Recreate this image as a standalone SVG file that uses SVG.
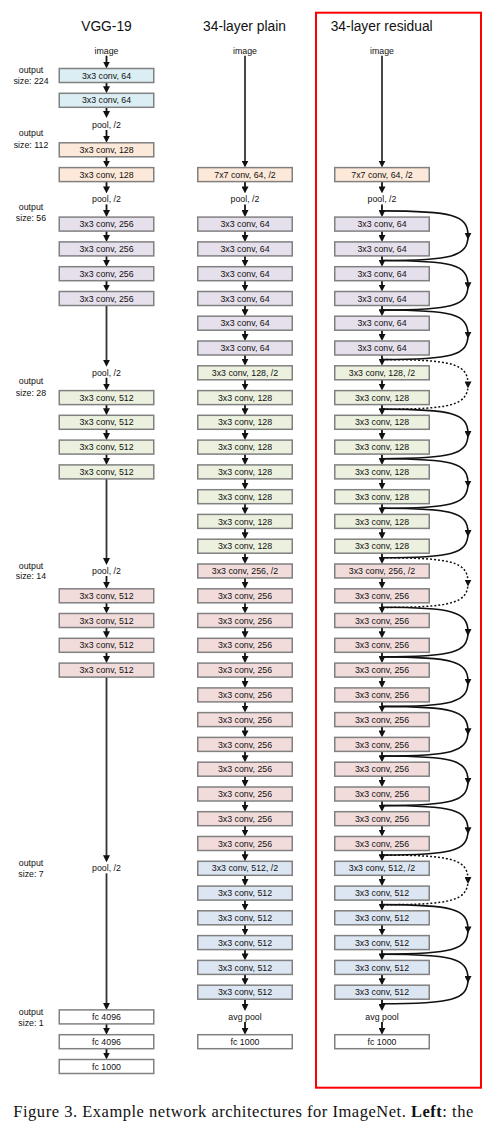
<svg xmlns="http://www.w3.org/2000/svg" width="483" height="1125" viewBox="0 0 483 1125">
<style>
text{font-family:"Liberation Sans",Arial,sans-serif;fill:#111}
.t{font-size:8.8px;text-anchor:middle}
.h{font-size:13.8px;text-anchor:middle}
.lab{font-size:8.8px;text-anchor:middle}
rect.b{stroke:#808080;stroke-width:1.5}
.blue{fill:#dbeef4}.orng{fill:#fde9d9}.lav{fill:#e6e0ec}.grn{fill:#ebf1de}.pink{fill:#f2dcdb}.lb{fill:#dce6f2}.wht{fill:#fff}
#connectors path{fill:none;stroke:#111;stroke-width:1.8}
#connectors path.long{stroke:#333}
#connectors path.sc{stroke-width:1.6}
#connectors path.d{stroke-dasharray:2 2;stroke-width:1.5}
</style>
<defs>
<marker id="ah" viewBox="0 0 7 7" refX="3" refY="3.5" markerWidth="7" markerHeight="7" markerUnits="userSpaceOnUse" orient="auto">
<path d="M0,0 L7,3.5 L0,7 z" fill="#111"/>
</marker>
</defs>
<rect x="0" y="0" width="483" height="1125" fill="#fff"/>
<rect x="316" y="12.7" width="165" height="1075" fill="none" stroke="#ff0000" stroke-width="2"/>
<g id="titles">
<text class="h" x="106.5" y="31">VGG-19</text>
<text class="h" x="244.5" y="31">34-layer plain</text>
<text class="h" x="381.7" y="31">34-layer residual</text>
</g>
<g id="size-labels">
<text class="lab" x="31" y="73">output</text><text class="lab" x="31" y="83.7">size: 224</text>
<text class="lab" x="31" y="136.3">output</text><text class="lab" x="31" y="148">size: 112</text>
<text class="lab" x="31" y="210.3">output</text><text class="lab" x="31" y="221.3">size: 56</text>
<text class="lab" x="31" y="384">output</text><text class="lab" x="31" y="396">size: 28</text>
<text class="lab" x="31" y="568.7">output</text><text class="lab" x="31" y="579">size: 14</text>
<text class="lab" x="31" y="866.3">output</text><text class="lab" x="31" y="877">size: 7</text>
<text class="lab" x="31" y="1015.3">output</text><text class="lab" x="31" y="1026.3">size: 1</text>
</g>
<g id="connectors" marker-end="url(#ah)">
<!-- VGG -->
<path d="M106.5,55.7V64.5"/>
<path d="M106.5,82.5V89.3"/>
<path d="M106.5,107.3V114"/>
<path d="M106.5,130V138.8"/>
<path d="M106.5,156.8V163.6"/>
<path d="M106.5,181.6V189.4"/>
<path d="M106.5,204.4V213.1"/>
<path d="M106.5,231.1V237.9"/>
<path d="M106.5,255.9V262.7"/>
<path d="M106.5,280.7V287.5"/>
<path class="long" d="M106.5,305.5V362.8"/>
<path d="M106.5,377.8V386.6"/>
<path d="M106.5,404.6V411.3"/>
<path d="M106.5,429.3V436.1"/>
<path d="M106.5,454.1V460.9"/>
<path class="long" d="M106.5,478.9V561"/>
<path d="M106.5,576V584.8"/>
<path d="M106.5,602.8V609.5"/>
<path d="M106.5,627.5V634.3"/>
<path d="M106.5,652.3V659.1"/>
<path class="long" d="M106.5,677.1V858.3"/>
<path class="long" d="M106.5,873.3V1005.9"/>
<path d="M106.5,1023.9V1030.7"/>
<path d="M106.5,1048.7V1055.5"/>
<!-- plain -->
<path class="long" d="M245,55.7V163.6"/>
<path d="M245,181.6V189.4"/>
<path d="M245,204.4V213.1"/>
<path d="M245,231.1V237.9"/><path d="M245,255.9V262.7"/><path d="M245,280.7V287.5"/><path d="M245,305.5V312.2"/><path d="M245,330.2V337"/><path d="M245,355V361.8"/>
<path d="M245,379.8V386.6"/><path d="M245,404.6V411.3"/><path d="M245,429.3V436.1"/><path d="M245,454.1V460.9"/><path d="M245,478.9V485.7"/><path d="M245,503.7V510.4"/><path d="M245,528.4V535.2"/><path d="M245,553.2V560"/>
<path d="M245,578V584.8"/><path d="M245,602.8V609.5"/><path d="M245,627.5V634.3"/><path d="M245,652.3V659.1"/><path d="M245,677.1V683.9"/><path d="M245,701.9V708.6"/><path d="M245,726.6V733.4"/><path d="M245,751.4V758.2"/><path d="M245,776.2V783"/><path d="M245,801V807.7"/><path d="M245,825.7V832.5"/><path d="M245,850.5V857.3"/>
<path d="M245,875.3V882.1"/><path d="M245,900.1V906.8"/><path d="M245,924.8V931.6"/><path d="M245,949.6V956.4"/><path d="M245,974.4V981.2"/>
<path d="M245,999.2V1006.9"/>
<path d="M245,1021.9V1030.7"/>
<!-- residual -->
<path class="long" d="M382,55.7V163.6"/>
<path d="M382,181.6V189.4"/>
<path d="M382,204.4V213.1"/>
<path d="M382,231.1V237.9"/><path d="M382,255.9V262.7"/><path d="M382,280.7V287.5"/><path d="M382,305.5V312.2"/><path d="M382,330.2V337"/><path d="M382,355V361.8"/>
<path d="M382,379.8V386.6"/><path d="M382,404.6V411.3"/><path d="M382,429.3V436.1"/><path d="M382,454.1V460.9"/><path d="M382,478.9V485.7"/><path d="M382,503.7V510.4"/><path d="M382,528.4V535.2"/><path d="M382,553.2V560"/>
<path d="M382,578V584.8"/><path d="M382,602.8V609.5"/><path d="M382,627.5V634.3"/><path d="M382,652.3V659.1"/><path d="M382,677.1V683.9"/><path d="M382,701.9V708.6"/><path d="M382,726.6V733.4"/><path d="M382,751.4V758.2"/><path d="M382,776.2V783"/><path d="M382,801V807.7"/><path d="M382,825.7V832.5"/><path d="M382,850.5V857.3"/>
<path d="M382,875.3V882.1"/><path d="M382,900.1V906.8"/><path d="M382,924.8V931.6"/><path d="M382,949.6V956.4"/><path d="M382,974.4V981.2"/>
<path d="M382,999.2V1006.9"/>
<path d="M382,1021.9V1030.7"/>
<!-- shortcuts -->
<path class="sc" d="M382,210.9C452,210.9 468,214.9 468,235.7"/><path class="sc" marker-end="none" d="M468,235.7C468,256.5 452,260.5 382,260.5"/>
<path class="sc" d="M382,260.5C452,260.5 468,264.5 468,285.3"/><path class="sc" marker-end="none" d="M468,285.3C468,306.1 452,310.1 382,310.1"/>
<path class="sc" d="M382,310C452,310 468,314 468,334.8"/><path class="sc" marker-end="none" d="M468,334.8C468,355.6 452,359.6 382,359.6"/>
<path class="sc d" d="M382,359.6C452,359.6 468,363.6 468,384.4"/><path class="sc d" marker-end="none" d="M468,384.4C468,405.2 452,409.2 382,409.2"/>
<path class="sc" d="M382,409.1C452,409.1 468,413.1 468,433.9"/><path class="sc" marker-end="none" d="M468,433.9C468,454.7 452,458.7 382,458.7"/>
<path class="sc" d="M382,458.7C452,458.7 468,462.7 468,483.5"/><path class="sc" marker-end="none" d="M468,483.5C468,504.3 452,508.3 382,508.3"/>
<path class="sc" d="M382,508.2C452,508.2 468,512.2 468,533"/><path class="sc" marker-end="none" d="M468,533C468,553.8 452,557.8 382,557.8"/>
<path class="sc d" d="M382,557.8C452,557.8 468,561.8 468,582.6"/><path class="sc d" marker-end="none" d="M468,582.6C468,603.4 452,607.4 382,607.4"/>
<path class="sc" d="M382,607.3C452,607.3 468,611.3 468,632.1"/><path class="sc" marker-end="none" d="M468,632.1C468,652.9 452,656.9 382,656.9"/>
<path class="sc" d="M382,656.9C452,656.9 468,660.9 468,681.7"/><path class="sc" marker-end="none" d="M468,681.7C468,702.5 452,706.5 382,706.5"/>
<path class="sc" d="M382,706.4C452,706.4 468,710.4 468,731.2"/><path class="sc" marker-end="none" d="M468,731.2C468,752 452,756 382,756"/>
<path class="sc" d="M382,756C452,756 468,760 468,780.8"/><path class="sc" marker-end="none" d="M468,780.8C468,801.6 452,805.6 382,805.6"/>
<path class="sc" d="M382,805.5C452,805.5 468,809.5 468,830.3"/><path class="sc" marker-end="none" d="M468,830.3C468,851.1 452,855.1 382,855.1"/>
<path class="sc d" d="M382,855.1C452,855.1 468,859.1 468,879.9"/><path class="sc d" marker-end="none" d="M468,879.9C468,900.7 452,904.7 382,904.7"/>
<path class="sc" d="M382,904.6C452,904.6 468,908.6 468,929.4"/><path class="sc" marker-end="none" d="M468,929.4C468,950.2 452,954.2 382,954.2"/>
<path class="sc" d="M382,954.2C452,954.2 468,958.2 468,979"/><path class="sc" marker-end="none" d="M468,979C468,999.8 452,1003.8 382,1003.8"/>
</g>
<!-- VGG nodes -->
<g id="vgg-image"><text class="t" x="106.5" y="53.7">image</text></g>
<g id="vgg-c1"><rect class="b blue" x="59.25" y="68.5" width="94.5" height="14"/><text class="t" x="106.5" y="78.6">3x3 conv, 64</text></g>
<g id="vgg-c2"><rect class="b blue" x="59.25" y="93.3" width="94.5" height="14"/><text class="t" x="106.5" y="103.4">3x3 conv, 64</text></g>
<g id="vgg-p1"><text class="t" x="106.5" y="128">pool, /2</text></g>
<g id="vgg-c3"><rect class="b orng" x="59.25" y="142.8" width="94.5" height="14"/><text class="t" x="106.5" y="152.9">3x3 conv, 128</text></g>
<g id="vgg-c4"><rect class="b orng" x="59.25" y="167.6" width="94.5" height="14"/><text class="t" x="106.5" y="177.7">3x3 conv, 128</text></g>
<g id="vgg-p2"><text class="t" x="106.5" y="202.4">pool, /2</text></g>
<g id="vgg-c5"><rect class="b lav" x="59.25" y="217.1" width="94.5" height="14"/><text class="t" x="106.5" y="227.2">3x3 conv, 256</text></g>
<g id="vgg-c6"><rect class="b lav" x="59.25" y="241.9" width="94.5" height="14"/><text class="t" x="106.5" y="252">3x3 conv, 256</text></g>
<g id="vgg-c7"><rect class="b lav" x="59.25" y="266.7" width="94.5" height="14"/><text class="t" x="106.5" y="276.8">3x3 conv, 256</text></g>
<g id="vgg-c8"><rect class="b lav" x="59.25" y="291.5" width="94.5" height="14"/><text class="t" x="106.5" y="301.6">3x3 conv, 256</text></g>
<g id="vgg-p3"><text class="t" x="106.5" y="375.8">pool, /2</text></g>
<g id="vgg-c9"><rect class="b grn" x="59.25" y="390.6" width="94.5" height="14"/><text class="t" x="106.5" y="400.7">3x3 conv, 512</text></g>
<g id="vgg-c10"><rect class="b grn" x="59.25" y="415.3" width="94.5" height="14"/><text class="t" x="106.5" y="425.4">3x3 conv, 512</text></g>
<g id="vgg-c11"><rect class="b grn" x="59.25" y="440.1" width="94.5" height="14"/><text class="t" x="106.5" y="450.2">3x3 conv, 512</text></g>
<g id="vgg-c12"><rect class="b grn" x="59.25" y="464.9" width="94.5" height="14"/><text class="t" x="106.5" y="475">3x3 conv, 512</text></g>
<g id="vgg-p4"><text class="t" x="106.5" y="574">pool, /2</text></g>
<g id="vgg-c13"><rect class="b pink" x="59.25" y="588.8" width="94.5" height="14"/><text class="t" x="106.5" y="598.9">3x3 conv, 512</text></g>
<g id="vgg-c14"><rect class="b pink" x="59.25" y="613.5" width="94.5" height="14"/><text class="t" x="106.5" y="623.6">3x3 conv, 512</text></g>
<g id="vgg-c15"><rect class="b pink" x="59.25" y="638.3" width="94.5" height="14"/><text class="t" x="106.5" y="648.4">3x3 conv, 512</text></g>
<g id="vgg-c16"><rect class="b pink" x="59.25" y="663.1" width="94.5" height="14"/><text class="t" x="106.5" y="673.2">3x3 conv, 512</text></g>
<g id="vgg-p5"><text class="t" x="106.5" y="871.3">pool, /2</text></g>
<g id="vgg-fc1"><rect class="b wht" x="59.25" y="1009.9" width="94.5" height="14"/><text class="t" x="106.5" y="1020">fc 4096</text></g>
<g id="vgg-fc2"><rect class="b wht" x="59.25" y="1034.7" width="94.5" height="14"/><text class="t" x="106.5" y="1044.8">fc 4096</text></g>
<g id="vgg-fc3"><rect class="b wht" x="59.25" y="1059.5" width="94.5" height="14"/><text class="t" x="106.5" y="1069.6">fc 1000</text></g>
<!-- plain nodes -->
<g id="pl-image"><text class="t" x="245" y="53.7">image</text></g>
<g id="pl-c0"><rect class="b orng" x="197.75" y="167.6" width="94.5" height="14"/><text class="t" x="245" y="177.7">7x7 conv, 64, /2</text></g>
<g id="pl-pool"><text class="t" x="245" y="202.4">pool, /2</text></g>
<g id="pl-c1"><rect class="b lav" x="197.75" y="217.1" width="94.5" height="14"/><text class="t" x="245" y="227.2">3x3 conv, 64</text></g>
<g id="pl-c2"><rect class="b lav" x="197.75" y="241.9" width="94.5" height="14"/><text class="t" x="245" y="252">3x3 conv, 64</text></g>
<g id="pl-c3"><rect class="b lav" x="197.75" y="266.7" width="94.5" height="14"/><text class="t" x="245" y="276.8">3x3 conv, 64</text></g>
<g id="pl-c4"><rect class="b lav" x="197.75" y="291.5" width="94.5" height="14"/><text class="t" x="245" y="301.6">3x3 conv, 64</text></g>
<g id="pl-c5"><rect class="b lav" x="197.75" y="316.2" width="94.5" height="14"/><text class="t" x="245" y="326.3">3x3 conv, 64</text></g>
<g id="pl-c6"><rect class="b lav" x="197.75" y="341" width="94.5" height="14"/><text class="t" x="245" y="351.1">3x3 conv, 64</text></g>
<g id="pl-c7"><rect class="b grn" x="197.75" y="365.8" width="94.5" height="14"/><text class="t" x="245" y="375.9">3x3 conv, 128, /2</text></g>
<g id="pl-c8"><rect class="b grn" x="197.75" y="390.6" width="94.5" height="14"/><text class="t" x="245" y="400.7">3x3 conv, 128</text></g>
<g id="pl-c9"><rect class="b grn" x="197.75" y="415.3" width="94.5" height="14"/><text class="t" x="245" y="425.4">3x3 conv, 128</text></g>
<g id="pl-c10"><rect class="b grn" x="197.75" y="440.1" width="94.5" height="14"/><text class="t" x="245" y="450.2">3x3 conv, 128</text></g>
<g id="pl-c11"><rect class="b grn" x="197.75" y="464.9" width="94.5" height="14"/><text class="t" x="245" y="475">3x3 conv, 128</text></g>
<g id="pl-c12"><rect class="b grn" x="197.75" y="489.7" width="94.5" height="14"/><text class="t" x="245" y="499.8">3x3 conv, 128</text></g>
<g id="pl-c13"><rect class="b grn" x="197.75" y="514.4" width="94.5" height="14"/><text class="t" x="245" y="524.5">3x3 conv, 128</text></g>
<g id="pl-c14"><rect class="b grn" x="197.75" y="539.2" width="94.5" height="14"/><text class="t" x="245" y="549.3">3x3 conv, 128</text></g>
<g id="pl-c15"><rect class="b pink" x="197.75" y="564" width="94.5" height="14"/><text class="t" x="245" y="574.1">3x3 conv, 256, /2</text></g>
<g id="pl-c16"><rect class="b pink" x="197.75" y="588.8" width="94.5" height="14"/><text class="t" x="245" y="598.9">3x3 conv, 256</text></g>
<g id="pl-c17"><rect class="b pink" x="197.75" y="613.5" width="94.5" height="14"/><text class="t" x="245" y="623.6">3x3 conv, 256</text></g>
<g id="pl-c18"><rect class="b pink" x="197.75" y="638.3" width="94.5" height="14"/><text class="t" x="245" y="648.4">3x3 conv, 256</text></g>
<g id="pl-c19"><rect class="b pink" x="197.75" y="663.1" width="94.5" height="14"/><text class="t" x="245" y="673.2">3x3 conv, 256</text></g>
<g id="pl-c20"><rect class="b pink" x="197.75" y="687.9" width="94.5" height="14"/><text class="t" x="245" y="698">3x3 conv, 256</text></g>
<g id="pl-c21"><rect class="b pink" x="197.75" y="712.6" width="94.5" height="14"/><text class="t" x="245" y="722.7">3x3 conv, 256</text></g>
<g id="pl-c22"><rect class="b pink" x="197.75" y="737.4" width="94.5" height="14"/><text class="t" x="245" y="747.5">3x3 conv, 256</text></g>
<g id="pl-c23"><rect class="b pink" x="197.75" y="762.2" width="94.5" height="14"/><text class="t" x="245" y="772.3">3x3 conv, 256</text></g>
<g id="pl-c24"><rect class="b pink" x="197.75" y="787" width="94.5" height="14"/><text class="t" x="245" y="797.1">3x3 conv, 256</text></g>
<g id="pl-c25"><rect class="b pink" x="197.75" y="811.7" width="94.5" height="14"/><text class="t" x="245" y="821.8">3x3 conv, 256</text></g>
<g id="pl-c26"><rect class="b pink" x="197.75" y="836.5" width="94.5" height="14"/><text class="t" x="245" y="846.6">3x3 conv, 256</text></g>
<g id="pl-c27"><rect class="b lb" x="197.75" y="861.3" width="94.5" height="14"/><text class="t" x="245" y="871.4">3x3 conv, 512, /2</text></g>
<g id="pl-c28"><rect class="b lb" x="197.75" y="886.1" width="94.5" height="14"/><text class="t" x="245" y="896.2">3x3 conv, 512</text></g>
<g id="pl-c29"><rect class="b lb" x="197.75" y="910.8" width="94.5" height="14"/><text class="t" x="245" y="920.9">3x3 conv, 512</text></g>
<g id="pl-c30"><rect class="b lb" x="197.75" y="935.6" width="94.5" height="14"/><text class="t" x="245" y="945.7">3x3 conv, 512</text></g>
<g id="pl-c31"><rect class="b lb" x="197.75" y="960.4" width="94.5" height="14"/><text class="t" x="245" y="970.5">3x3 conv, 512</text></g>
<g id="pl-c32"><rect class="b lb" x="197.75" y="985.2" width="94.5" height="14"/><text class="t" x="245" y="995.3">3x3 conv, 512</text></g>
<g id="pl-avg"><text class="t" x="245" y="1019.9">avg pool</text></g>
<g id="pl-fc"><rect class="b wht" x="197.75" y="1034.7" width="94.5" height="14"/><text class="t" x="245" y="1044.8">fc 1000</text></g>
<!-- residual nodes -->
<g id="rs-image"><text class="t" x="382" y="53.7">image</text></g>
<g id="rs-c0"><rect class="b orng" x="334.75" y="167.6" width="94.5" height="14"/><text class="t" x="382" y="177.7">7x7 conv, 64, /2</text></g>
<g id="rs-pool"><text class="t" x="382" y="202.4">pool, /2</text></g>
<g id="rs-c1"><rect class="b lav" x="334.75" y="217.1" width="94.5" height="14"/><text class="t" x="382" y="227.2">3x3 conv, 64</text></g>
<g id="rs-c2"><rect class="b lav" x="334.75" y="241.9" width="94.5" height="14"/><text class="t" x="382" y="252">3x3 conv, 64</text></g>
<g id="rs-c3"><rect class="b lav" x="334.75" y="266.7" width="94.5" height="14"/><text class="t" x="382" y="276.8">3x3 conv, 64</text></g>
<g id="rs-c4"><rect class="b lav" x="334.75" y="291.5" width="94.5" height="14"/><text class="t" x="382" y="301.6">3x3 conv, 64</text></g>
<g id="rs-c5"><rect class="b lav" x="334.75" y="316.2" width="94.5" height="14"/><text class="t" x="382" y="326.3">3x3 conv, 64</text></g>
<g id="rs-c6"><rect class="b lav" x="334.75" y="341" width="94.5" height="14"/><text class="t" x="382" y="351.1">3x3 conv, 64</text></g>
<g id="rs-c7"><rect class="b grn" x="334.75" y="365.8" width="94.5" height="14"/><text class="t" x="382" y="375.9">3x3 conv, 128, /2</text></g>
<g id="rs-c8"><rect class="b grn" x="334.75" y="390.6" width="94.5" height="14"/><text class="t" x="382" y="400.7">3x3 conv, 128</text></g>
<g id="rs-c9"><rect class="b grn" x="334.75" y="415.3" width="94.5" height="14"/><text class="t" x="382" y="425.4">3x3 conv, 128</text></g>
<g id="rs-c10"><rect class="b grn" x="334.75" y="440.1" width="94.5" height="14"/><text class="t" x="382" y="450.2">3x3 conv, 128</text></g>
<g id="rs-c11"><rect class="b grn" x="334.75" y="464.9" width="94.5" height="14"/><text class="t" x="382" y="475">3x3 conv, 128</text></g>
<g id="rs-c12"><rect class="b grn" x="334.75" y="489.7" width="94.5" height="14"/><text class="t" x="382" y="499.8">3x3 conv, 128</text></g>
<g id="rs-c13"><rect class="b grn" x="334.75" y="514.4" width="94.5" height="14"/><text class="t" x="382" y="524.5">3x3 conv, 128</text></g>
<g id="rs-c14"><rect class="b grn" x="334.75" y="539.2" width="94.5" height="14"/><text class="t" x="382" y="549.3">3x3 conv, 128</text></g>
<g id="rs-c15"><rect class="b pink" x="334.75" y="564" width="94.5" height="14"/><text class="t" x="382" y="574.1">3x3 conv, 256, /2</text></g>
<g id="rs-c16"><rect class="b pink" x="334.75" y="588.8" width="94.5" height="14"/><text class="t" x="382" y="598.9">3x3 conv, 256</text></g>
<g id="rs-c17"><rect class="b pink" x="334.75" y="613.5" width="94.5" height="14"/><text class="t" x="382" y="623.6">3x3 conv, 256</text></g>
<g id="rs-c18"><rect class="b pink" x="334.75" y="638.3" width="94.5" height="14"/><text class="t" x="382" y="648.4">3x3 conv, 256</text></g>
<g id="rs-c19"><rect class="b pink" x="334.75" y="663.1" width="94.5" height="14"/><text class="t" x="382" y="673.2">3x3 conv, 256</text></g>
<g id="rs-c20"><rect class="b pink" x="334.75" y="687.9" width="94.5" height="14"/><text class="t" x="382" y="698">3x3 conv, 256</text></g>
<g id="rs-c21"><rect class="b pink" x="334.75" y="712.6" width="94.5" height="14"/><text class="t" x="382" y="722.7">3x3 conv, 256</text></g>
<g id="rs-c22"><rect class="b pink" x="334.75" y="737.4" width="94.5" height="14"/><text class="t" x="382" y="747.5">3x3 conv, 256</text></g>
<g id="rs-c23"><rect class="b pink" x="334.75" y="762.2" width="94.5" height="14"/><text class="t" x="382" y="772.3">3x3 conv, 256</text></g>
<g id="rs-c24"><rect class="b pink" x="334.75" y="787" width="94.5" height="14"/><text class="t" x="382" y="797.1">3x3 conv, 256</text></g>
<g id="rs-c25"><rect class="b pink" x="334.75" y="811.7" width="94.5" height="14"/><text class="t" x="382" y="821.8">3x3 conv, 256</text></g>
<g id="rs-c26"><rect class="b pink" x="334.75" y="836.5" width="94.5" height="14"/><text class="t" x="382" y="846.6">3x3 conv, 256</text></g>
<g id="rs-c27"><rect class="b lb" x="334.75" y="861.3" width="94.5" height="14"/><text class="t" x="382" y="871.4">3x3 conv, 512, /2</text></g>
<g id="rs-c28"><rect class="b lb" x="334.75" y="886.1" width="94.5" height="14"/><text class="t" x="382" y="896.2">3x3 conv, 512</text></g>
<g id="rs-c29"><rect class="b lb" x="334.75" y="910.8" width="94.5" height="14"/><text class="t" x="382" y="920.9">3x3 conv, 512</text></g>
<g id="rs-c30"><rect class="b lb" x="334.75" y="935.6" width="94.5" height="14"/><text class="t" x="382" y="945.7">3x3 conv, 512</text></g>
<g id="rs-c31"><rect class="b lb" x="334.75" y="960.4" width="94.5" height="14"/><text class="t" x="382" y="970.5">3x3 conv, 512</text></g>
<g id="rs-c32"><rect class="b lb" x="334.75" y="985.2" width="94.5" height="14"/><text class="t" x="382" y="995.3">3x3 conv, 512</text></g>
<g id="rs-avg"><text class="t" x="382" y="1019.9">avg pool</text></g>
<g id="rs-fc"><rect class="b wht" x="334.75" y="1034.7" width="94.5" height="14"/><text class="t" x="382" y="1044.8">fc 1000</text></g>
<g id="caption"><text x="13.3" y="1116.5" style="font-family:'Liberation Serif','Times New Roman',serif;font-size:16.5px;fill:#111" textLength="460" lengthAdjust="spacing">Figure 3. Example network architectures for ImageNet. <tspan font-weight="bold">Left</tspan>: the</text></g>
</svg>
